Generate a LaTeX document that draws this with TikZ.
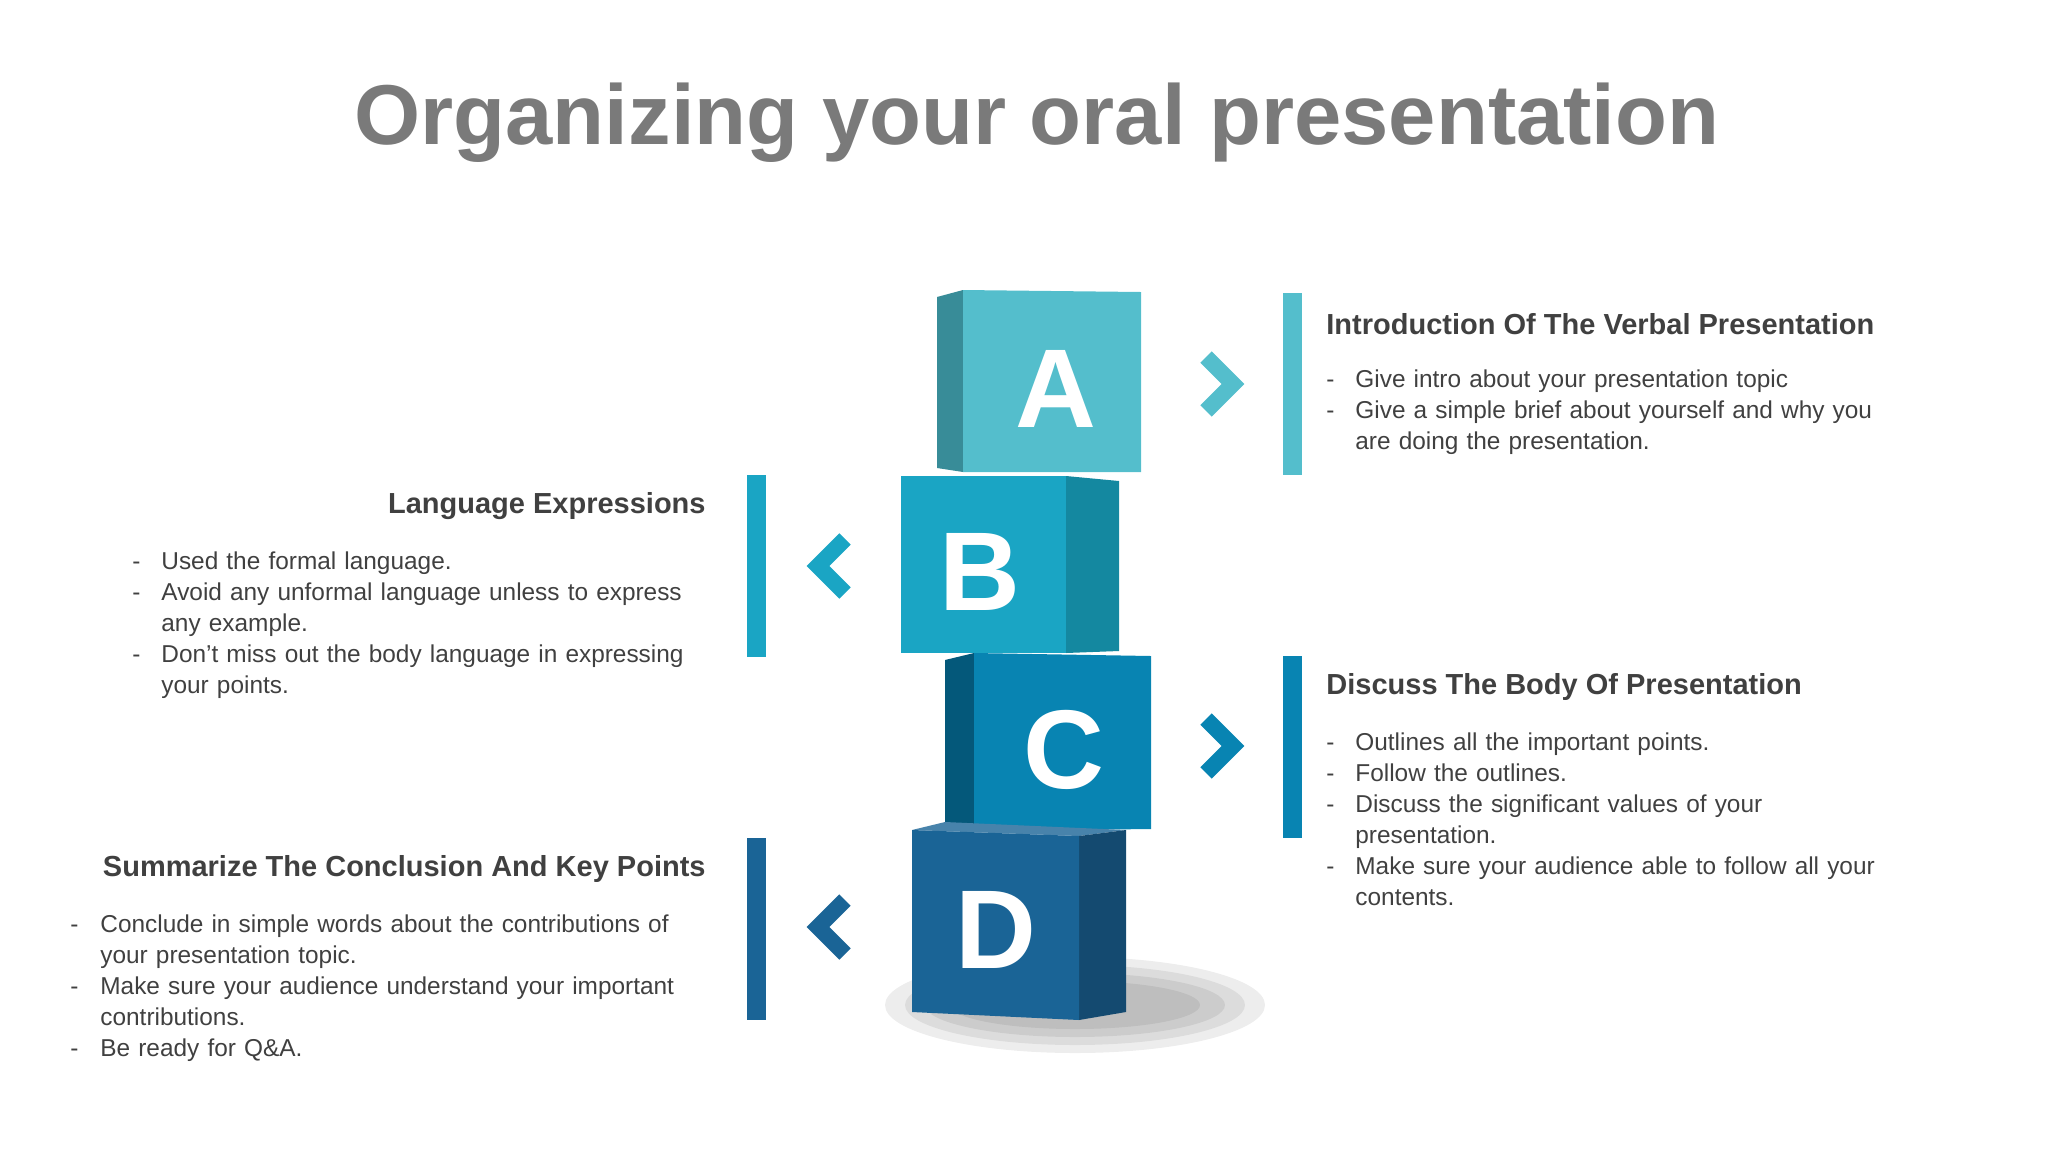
\documentclass[tikz,border=0pt]{standalone}
\usepackage{fontspec}
\setmainfont{Liberation Sans}
\usetikzlibrary{positioning}
\definecolor{ttl}{RGB}{122,122,122}
\definecolor{txt}{RGB}{64,64,64}
\definecolor{ca}{RGB}{84,190,204}
\definecolor{cas}{RGB}{56,140,152}
\definecolor{cb}{RGB}{26,165,196}
\definecolor{cbs}{RGB}{20,136,160}
\definecolor{cc}{RGB}{8,132,178}
\definecolor{ccs}{RGB}{4,88,122}
\definecolor{cd}{RGB}{26,100,150}
\definecolor{cds}{RGB}{20,74,112}
\newlength{\dashw}
\newcommand{\bul}[2][14.5pt]{\par\setlength{\dashw}{#1}\hangindent=\dashw\hangafter=1\noindent\makebox[\dashw][l]{-}#2\par}

\begin{document}
\begin{tikzpicture}[
    x=0.5pt, y=-0.5pt,
    head/.style={font=\bfseries\fontsize{14.5}{17}\selectfont, text=txt, inner sep=0pt},
    body/.style={font=\fontsize{12.2}{15.5}\selectfont, text=txt, inner sep=0pt, align=left},
    letter/.style={font=\bfseries\fontsize{56}{56}\selectfont, text=white, anchor=base},
    bar/.style={minimum width=9.5pt, minimum height=91pt, inner sep=0pt},
    chev/.style={line width=8pt, line join=miter}
]
    \useasboundingbox (0,0) rectangle (2048,1152);

    % title
    \node[font=\bfseries\fontsize{42.5}{48}\selectfont, text=ttl] (title) at (1037,123) {Organizing your oral presentation};

    % shadow
    \foreach \rx/\ry in {190/48,170/40,150/32,125/24} {
        \fill[black, opacity=0.07] (1075,1005) ellipse ({\rx} and {\ry});
    }

    % cube A
    \fill[cas] (937,297) -- (963,290) -- (963,472) -- (937,468) -- cycle;
    \fill[ca] (963,290) -- (1141,292) -- (1141,472) -- (963,472) -- cycle;
    \node[letter] (la) at (1056,427) {A};
    % cube B
    \fill[cbs] (1066,476) -- (1119,481) -- (1119,651) -- (1066,653) -- cycle;
    \fill[cb] (901,476) rectangle (1066,653);
    \node[letter] (lb) at (980,610) {B};
    % cube C
    \fill[ccs] (945,660) -- (974,653) -- (974,831) -- (945,826) -- cycle;
    \fill[cc] (974,653) -- (1151,656) -- (1151,829) -- (974,831) -- cycle;
    \node[letter] (lc) at (1064,788) {C};
    % cube D
    \fill[cd!80!white] (912,830) -- (945,822) -- (1126,830) -- (1079,836) -- cycle;
    \fill[cds] (1079,836) -- (1126,830) -- (1126,1012) -- (1079,1020) -- cycle;
    \fill[cd] (912,830) -- (1079,836) -- (1079,1020) -- (912,1012) -- cycle;
    \node[letter] (ld) at (996,968) {D};

    % chevrons
    \draw[chev, ca] (1206,384-27) -- (1233,384) -- (1206,384+27);
    \draw[chev, cb] (845,566-27) -- (818,566) -- (845,566+27);
    \draw[chev, cc] (1206,746-27) -- (1233,746) -- (1206,746+27);
    \draw[chev, cd] (845,927-27) -- (818,927) -- (845,927+27);

    % bars
    \node[bar, fill=ca] (bara) at (1292,384) {};
    \node[bar, fill=cb] (barb) at (756,566) {};
    \node[bar, fill=cc] (barc) at (1292,747) {};
    \node[bar, fill=cd] (bard) at (756,929) {};

    % A: introduction
    \node[head, anchor=west] (ha) at (1326,324) {Introduction Of The Verbal Presentation};
    \node[body, anchor=north west, text width=300pt] (ta) at (1326,356) {%
        \bul{Give intro about your presentation topic}
        \bul{Give a simple brief about yourself and why you\newline are doing the presentation.}};

    % B: language
    \node[head, anchor=east] (hb) at (706,506) {Language Expressions};
    \node[body, anchor=north west, text width=300pt] (tb) at (132,538) {%
        \bul{Used the formal language.}
        \bul{Avoid any unformal language unless to express\newline any example.}
        \bul{Don't miss out the body language in expressing\newline your points.}};

    % C: body
    \node[head, anchor=west] (hc) at (1326,687) {Discuss The Body Of Presentation};
    \node[body, anchor=north west, text width=300pt] (tc) at (1326,719) {%
        \bul{Outlines all the important points.}
        \bul{Follow the outlines.}
        \bul{Discuss the significant values of your\newline presentation.}
        \bul{Make sure your audience able to follow all your\newline contents.}};

    % D: conclusion
    \node[head, anchor=east] (hd) at (706,869) {Summarize The Conclusion And Key Points};
    \node[body, anchor=north west, text width=330pt] (td) at (70,901) {%
        \bul[15pt]{Conclude in simple words about the contributions of\newline your presentation topic.}
        \bul[15pt]{Make sure your audience understand your important\newline contributions.}
        \bul[15pt]{Be ready for Q\&A.}};
\end{tikzpicture}
\end{document}
